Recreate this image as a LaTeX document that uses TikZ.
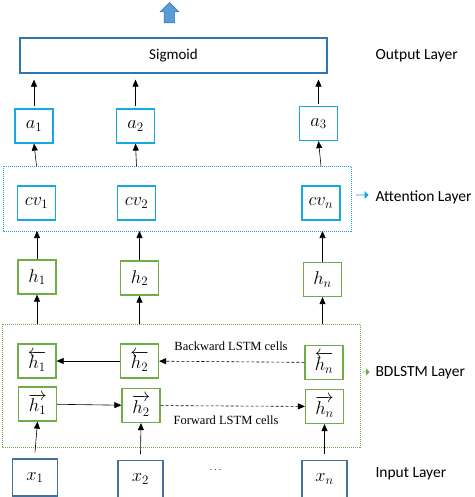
\RequirePackage{fix-cm}
\documentclass[tikz,border=0pt]{standalone}
\usepackage{fontspec}
\setmainfont{Carlito}
\newfontfamily\cellfont{Liberation Serif}
\usetikzlibrary{positioning, calc, fit, arrows.meta, shapes.arrows}
\definecolor{sigblue}{RGB}{46,117,182}
\definecolor{attcyan}{RGB}{22,168,224}
\definecolor{lstmgreen}{RGB}{112,173,71}
\definecolor{inblue}{RGB}{65,113,156}
\definecolor{outfill}{RGB}{91,155,213}

\begin{document}
\begin{tikzpicture}[
        x=1pt, y=-1pt,
        every node/.style={font=\fontsize{16}{19}\selectfont},
        box/.style={draw, line width=1.2pt, inner sep=0pt, minimum width=38pt, minimum height=34pt, font=\fontsize{18.5}{22}\selectfont},
        attbox/.style={box, draw=attcyan},
        lstmbox/.style={box, draw=lstmgreen},
        inbox/.style={box, draw=inblue, minimum width=45pt, minimum height=37pt},
        layertext/.style={anchor=west, font=\fontsize{15.5}{19}\selectfont},
        celltext/.style={font=\cellfont\fontsize{12.5}{15}\selectfont},
        sidearrow/.style={single arrow, inner sep=0pt, single arrow head extend=2pt},
        arr/.style={-{Triangle[length=7pt,width=6pt]}, line width=0.6pt},
        darr/.style={arr, densely dashed}
    ]
        \useasboundingbox (0,0) rectangle (474,497);

        % Output arrow
        \filldraw[fill=outfill, draw=sigblue, line width=0.5pt]
            (164,23) -- (164,12) -- (160,12) -- (169.5,2.5) -- (179,12) -- (174.5,12) -- (174.5,23) -- cycle;

        % Nodes
        \node[draw=sigblue, line width=1.2pt, minimum width=307pt, minimum height=35pt, inner sep=0pt, font=\fontsize{15}{18}\selectfont] (sigmoid) at (173.5,55.5) {Sigmoid};
        \node[layertext] (outlabel) at (372,56) {Output Layer};

        \node[attbox] (a1) at (34,126) {$a_1$};
        \node[attbox] (a2) at (135.5,126) {$a_2$};
        \node[attbox] (a3) at (318.5,123.5) {$a_3$};

        \node[attbox] (cv1) at (36.5,203) {$cv_1$};
        \node[attbox] (cv2) at (136.5,203) {$cv_2$};
        \node[attbox] (cvn) at (321,203) {$cv_n$};
        \draw[attcyan, densely dotted, line width=1pt] (3,166) rectangle (351,231);
        \coordinate (atttop) at (0,166);
        \coordinate (attbot) at (0,231);
        \node[sidearrow, fill=attcyan, minimum height=13pt, minimum width=8pt] (attarrow) at (362,195) {};
        \node[layertext] (attlabel) at (372,197) {Attention Layer};

        \node[lstmbox] (h1) at (37,277) {$h_1$};
        \node[lstmbox] (h2) at (139.5,278) {$h_2$};
        \node[lstmbox] (hn) at (322.5,279.5) {$h_n$};

        \draw[lstmgreen, densely dotted, line width=1pt] (2,324) rectangle (360,447);
        \coordinate (bdtop) at (0,324);
        \node[sidearrow, fill=lstmgreen, minimum height=7pt, minimum width=7pt] (bdarrow) at (366,372) {};
        \node[layertext] (bdlabel) at (372,373) {BDLSTM Layer};

        \node[lstmbox] (hb1) at (37,361) {$\overleftarrow{h_1}$};
        \node[lstmbox] (hb2) at (139.5,361) {$\overleftarrow{h_2}$};
        \node[lstmbox] (hbn) at (324,362.5) {$\overleftarrow{h_n}$};
        \node[lstmbox] (hf1) at (37.5,404) {$\overrightarrow{h_1}$};
        \node[lstmbox] (hf2) at (141,405.5) {$\overrightarrow{h_2}$};
        \node[lstmbox] (hfn) at (324.5,406.5) {$\overrightarrow{h_n}$};
        \node[celltext] (backlabel) at (231,346) {Backward LSTM cells};
        \node[celltext] (fwdlabel) at (226,420) {Forward LSTM cells};

        \node[inbox] (x1) at (35,477.5) {$x_1$};
        \node[inbox] (x2) at (140.5,479) {$x_2$};
        \node[inbox] (xn) at (324.5,479) {$x_n$};
        \node (dots) at (215.5,470) {\fontsize{10}{12}\selectfont$\cdots$};
        \node[layertext] (inlabel) at (372,474) {Input Layer};

        % Arrows
        \draw[arr] ($(a1.north)+(0,-2)$) -- ($(a1.north |- sigmoid.south)+(0,6)$);
        \draw[arr] ($(a2.north)+(0,-2)$) -- ($(a2.north |- sigmoid.south)+(0,6)$);
        \draw[arr] ($(a3.north)+(0,-2)$) -- ($(a3.north |- sigmoid.south)+(0,6)$);
        \draw[arr] (cv1.north |- atttop) -- (a1.south);
        \draw[arr] (cv2.north |- atttop) -- (a2.south);
        \draw[arr] (cvn.north |- atttop) -- (a3.south);
        \draw[arr] (h1.north) -- (h1.north |- attbot);
        \draw[arr] (h2.north) -- (h2.north |- attbot);
        \draw[arr] (hn.north) -- (hn.north |- attbot);
        \draw[arr] (h1.south |- bdtop) -- (h1.south);
        \draw[arr] (h2.south |- bdtop) -- (h2.south);
        \draw[arr] (hn.south |- bdtop) -- (hn.south);

        \draw[arr] (hb2) -- (hb1);
        \draw[darr] (hbn) -- (hb2);
        \draw[arr] (hf1) -- (hf2);
        \draw[darr] (hf2) -- (hfn);

        \draw[arr] ($(x1.north)+(0,-6)$) -- (hf1.south);
        \draw[arr] ($(x2.north)+(0,-6)$) -- (hf2.south);
        \draw[arr] ($(xn.north)+(0,-6)$) -- (hfn.south);
    \end{tikzpicture}
\end{document}
